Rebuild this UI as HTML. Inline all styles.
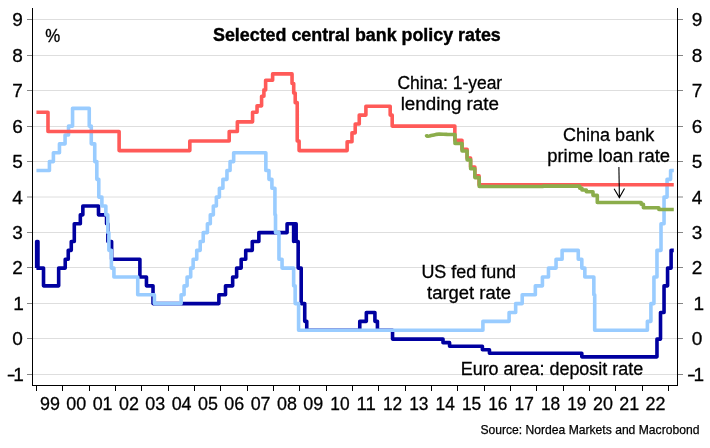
<!DOCTYPE html>
<html lang="en">
<head>
<meta charset="utf-8">
<title>Selected central bank policy rates</title>
<style>
html,body{margin:0;padding:0;background:#fff;}
body{width:710px;height:448px;overflow:hidden;}
svg{display:block;font-family:"Liberation Sans", sans-serif;}
.ax{font-size:19px;fill:#000;stroke:#000;stroke-width:0.3px;}
.lbl{font-size:18px;fill:#000;stroke:#000;stroke-width:0.3px;}
.ttl{font-size:18px;font-weight:bold;fill:#000;stroke:#000;stroke-width:0.4px;}
.src{font-size:13px;fill:#000;stroke:#000;stroke-width:0.25px;}
.grid line{stroke:#dedede;stroke-width:1;}
.tick line{stroke:#858585;stroke-width:1;}
.axis line{stroke:#000;stroke-width:1;}
.series path{fill:none;stroke-width:3.6;stroke-linejoin:round;stroke-linecap:butt;}
</style>
</head>
<body>
<svg width="710" height="448" viewBox="0 0 710 448" role="img" aria-label="Selected central bank policy rates">
<rect x="0" y="0" width="710" height="448" fill="#ffffff"/>

<g class="grid">
<line x1="32.5" x2="677.5" y1="374.5" y2="374.5"/>
<line x1="32.5" x2="677.5" y1="338.5" y2="338.5"/>
<line x1="32.5" x2="677.5" y1="303.5" y2="303.5"/>
<line x1="32.5" x2="677.5" y1="267.5" y2="267.5"/>
<line x1="32.5" x2="677.5" y1="232.5" y2="232.5"/>
<line x1="32.5" x2="677.5" y1="197.0" y2="197.0"/>
<line x1="32.5" x2="677.5" y1="161.5" y2="161.5"/>
<line x1="32.5" x2="677.5" y1="126.5" y2="126.5"/>
<line x1="32.5" x2="677.5" y1="90.5" y2="90.5"/>
<line x1="32.5" x2="677.5" y1="55.5" y2="55.5"/>
<line x1="32.5" x2="677.5" y1="19.5" y2="19.5"/>
</g>
<g class="tick">
<line x1="27" x2="32" y1="374.5" y2="374.5"/>
<line x1="678" x2="683" y1="374.5" y2="374.5"/>
<line x1="27" x2="32" y1="338.5" y2="338.5"/>
<line x1="678" x2="683" y1="338.5" y2="338.5"/>
<line x1="27" x2="32" y1="303.5" y2="303.5"/>
<line x1="678" x2="683" y1="303.5" y2="303.5"/>
<line x1="27" x2="32" y1="267.5" y2="267.5"/>
<line x1="678" x2="683" y1="267.5" y2="267.5"/>
<line x1="27" x2="32" y1="232.5" y2="232.5"/>
<line x1="678" x2="683" y1="232.5" y2="232.5"/>
<line x1="27" x2="32" y1="197.0" y2="197.0"/>
<line x1="678" x2="683" y1="197.0" y2="197.0"/>
<line x1="27" x2="32" y1="161.5" y2="161.5"/>
<line x1="678" x2="683" y1="161.5" y2="161.5"/>
<line x1="27" x2="32" y1="126.5" y2="126.5"/>
<line x1="678" x2="683" y1="126.5" y2="126.5"/>
<line x1="27" x2="32" y1="90.5" y2="90.5"/>
<line x1="678" x2="683" y1="90.5" y2="90.5"/>
<line x1="27" x2="32" y1="55.5" y2="55.5"/>
<line x1="678" x2="683" y1="55.5" y2="55.5"/>
<line x1="27" x2="32" y1="19.5" y2="19.5"/>
<line x1="678" x2="683" y1="19.5" y2="19.5"/>
</g>
<g class="series">
<path d="M36.45,268.10 L36.67,268.10 L36.67,241.48 L37.96,241.48 L37.96,268.10 L43.52,268.10 L43.52,285.85 L58.67,285.85 L58.67,268.10 L65.23,268.10 L65.23,259.23 L68.25,259.23 L68.25,250.35 L71.27,250.35 L71.27,241.48 L74.29,241.48 L74.29,223.73 L80.33,223.73 L80.33,214.85 L82.85,214.85 L82.85,205.98 L98.49,205.98 L98.49,214.85 L106.57,214.85 L106.57,223.73 L107.87,223.73 L107.87,241.48 L111.62,241.48 L111.62,259.23 L139.89,259.23 L139.89,276.98 L146.46,276.98 L146.46,285.85 L153.02,285.85 L153.02,303.60 L218.88,303.60 L218.88,294.73 L225.52,294.73 L225.52,285.85 L232.66,285.85 L232.66,276.98 L236.63,276.98 L236.63,268.10 L241.17,268.10 L241.17,259.23 L245.72,259.23 L245.72,250.35 L252.28,250.35 L252.28,241.48 L258.85,241.48 L258.85,232.60 L287.09,232.60 L287.09,223.73 L293.64,223.73 L293.64,241.48 L293.71,241.48 L293.71,223.73 L296.15,223.73 L296.15,241.48 L298.17,241.48 L298.17,268.10 L301.19,268.10 L301.19,303.60 L304.73,303.60 L304.73,321.35 L306.75,321.35 L306.75,330.23 L359.77,330.23 L359.77,321.35 L366.33,321.35 L366.33,312.48 L374.92,312.48 L374.92,321.35 L377.44,321.35 L377.44,330.23 L392.55,330.23 L392.55,339.10 L443.01,339.10 L443.01,342.65 L449.58,342.65 L449.58,346.20 L482.40,346.20 L482.40,349.75 L489.46,349.75 L489.46,353.30 L581.81,353.30 L581.81,356.85 L656.97,356.85 L656.97,339.10 L660.51,339.10 L660.51,312.48 L664.04,312.48 L664.04,285.85 L667.58,285.85 L667.58,268.10 L671.11,268.10 L671.11,250.35 L673.78,250.35" stroke="#0000A0"/>
<path d="M36.45,170.48 L49.43,170.48 L49.43,161.60 L53.40,161.60 L53.40,152.73 L59.46,152.73 L59.46,143.85 L65.08,143.85 L65.08,134.98 L68.54,134.98 L68.54,126.10 L72.56,126.10 L72.56,108.35 L89.25,108.35 L89.25,126.10 L91.27,126.10 L91.27,143.85 L94.74,143.85 L94.74,161.60 L96.83,161.60 L96.83,179.35 L98.78,179.35 L98.78,197.10 L101.88,197.10 L101.88,205.98 L105.85,205.98 L105.85,214.85 L107.79,214.85 L107.79,232.60 L108.88,232.60 L108.88,250.35 L111.40,250.35 L111.40,268.10 L113.93,268.10 L113.93,276.98 L137.73,276.98 L137.73,294.73 L154.39,294.73 L154.39,303.60 L181.12,303.60 L181.12,294.73 L184.07,294.73 L184.07,285.85 L187.09,285.85 L187.09,276.98 L190.69,276.98 L190.69,268.10 L193.14,268.10 L193.14,259.23 L196.74,259.23 L196.74,250.35 L200.20,250.35 L200.20,241.48 L203.23,241.48 L203.23,232.60 L207.41,232.60 L207.41,223.73 L210.30,223.73 L210.30,214.85 L213.33,214.85 L213.33,205.98 L216.36,205.98 L216.36,197.10 L219.39,197.10 L219.39,188.23 L222.92,188.23 L222.92,179.35 L226.96,179.35 L226.96,170.48 L230.07,170.48 L230.07,161.60 L233.67,161.60 L233.67,152.73 L265.85,152.73 L265.85,170.48 L268.95,170.48 L268.95,179.35 L271.91,179.35 L271.91,188.23 L274.93,188.23 L274.93,214.85 L275.51,214.85 L275.51,232.60 L278.96,232.60 L278.96,259.23 L282.05,259.23 L282.05,268.10 L293.64,268.10 L293.64,285.85 L295.15,285.85 L295.15,303.60 L298.60,303.60 L298.60,330.23 L482.91,330.23 L482.91,321.35 L509.10,321.35 L509.10,312.48 L515.66,312.48 L515.66,303.60 L522.22,303.60 L522.22,294.73 L535.35,294.73 L535.35,285.85 L542.42,285.85 L542.42,276.98 L548.48,276.98 L548.48,268.10 L556.05,268.10 L556.05,259.23 L562.11,259.23 L562.11,250.35 L578.27,250.35 L578.27,259.23 L581.81,259.23 L581.81,268.10 L584.84,268.10 L584.84,276.98 L593.84,276.98 L593.84,294.73 L594.70,294.73 L594.70,330.23 L647.38,330.23 L647.38,321.35 L650.91,321.35 L650.91,303.60 L653.94,303.60 L653.94,276.98 L656.97,276.98 L656.97,250.35 L661.01,250.35 L661.01,223.73 L664.04,223.73 L664.04,197.10 L667.07,197.10 L667.07,179.35 L670.61,179.35 L670.61,170.48 L673.78,170.48" stroke="#99CCFF"/>
<path d="M36.45,112.26 L47.99,112.26 L47.99,131.43 L119.12,131.43 L119.12,150.60 L189.83,150.60 L189.83,141.01 L229.20,141.01 L229.20,131.43 L237.35,131.43 L237.35,121.84 L252.57,121.84 L252.57,112.26 L257.04,112.26 L257.04,105.87 L261.59,105.87 L261.59,96.28 L263.90,96.28 L263.90,89.89 L265.63,89.89 L265.63,80.31 L272.63,80.31 L272.63,73.92 L292.05,73.92 L292.05,83.50 L293.71,83.50 L293.71,93.09 L295.22,93.09 L295.22,102.67 L297.23,102.67 L297.23,141.01 L299.10,141.01 L299.10,150.60 L347.14,150.60 L347.14,141.72 L351.98,141.72 L351.98,132.85 L355.22,132.85 L355.22,123.97 L359.26,123.97 L359.26,115.10 L365.90,115.10 L365.90,106.22 L390.18,106.22 L390.18,115.10 L392.19,115.10 L392.19,126.10 L454.84,126.10 L454.84,140.30 L461.99,140.30 L461.99,149.18 L467.11,149.18 L467.11,158.05 L470.57,158.05 L470.57,166.93 L474.83,166.93 L474.83,175.80 L479.08,175.80 L479.08,184.68 L673.78,184.68" stroke="#FF5A58"/>
<path d="M426.53,135.86 L427.98,136.18 L429.56,136.04 L431.14,135.61 L434.03,134.90 L436.67,134.34 L439.30,134.05 L443.25,134.19 L447.20,134.41 L454.97,134.44 L454.99,134.44 L454.99,143.50 L462.06,143.50 L462.06,150.95 L467.11,150.95 L467.11,159.83 L470.64,159.83 L470.64,168.70 L474.83,168.70 L474.83,177.58 L479.23,177.58 L479.23,186.45 L543.21,186.45 L543.21,186.10 L579.71,186.10 L579.71,188.23 L581.95,188.23 L581.95,190.00 L586.35,190.00 L586.35,191.78 L592.98,191.78 L592.98,195.33 L597.29,195.33 L597.29,202.43 L641.17,202.43 L641.17,204.20 L643.41,204.20 L643.41,207.75 L658.85,207.75 L658.85,209.53 L673.78,209.53" stroke="#8BAD4B"/>
<circle cx="426.53" cy="135.86" r="1.8" fill="#8BAD4B"/>
</g>
<g class="axis">
<line x1="32.5" x2="32.5" y1="8" y2="386"/>
<line x1="677.5" x2="677.5" y1="8" y2="386"/>
<line x1="32" x2="678" y1="385.5" y2="385.5"/>
<line x1="36.5" x2="36.5" y1="386" y2="391"/>
<line x1="62.5" x2="62.5" y1="386" y2="391"/>
<line x1="89.5" x2="89.5" y1="386" y2="391"/>
<line x1="115.5" x2="115.5" y1="386" y2="391"/>
<line x1="141.5" x2="141.5" y1="386" y2="391"/>
<line x1="168.5" x2="168.5" y1="386" y2="391"/>
<line x1="194.5" x2="194.5" y1="386" y2="391"/>
<line x1="220.5" x2="220.5" y1="386" y2="391"/>
<line x1="247.5" x2="247.5" y1="386" y2="391"/>
<line x1="273.5" x2="273.5" y1="386" y2="391"/>
<line x1="299.5" x2="299.5" y1="386" y2="391"/>
<line x1="326.5" x2="326.5" y1="386" y2="391"/>
<line x1="352.5" x2="352.5" y1="386" y2="391"/>
<line x1="378.5" x2="378.5" y1="386" y2="391"/>
<line x1="405.5" x2="405.5" y1="386" y2="391"/>
<line x1="431.5" x2="431.5" y1="386" y2="391"/>
<line x1="457.5" x2="457.5" y1="386" y2="391"/>
<line x1="484.5" x2="484.5" y1="386" y2="391"/>
<line x1="510.5" x2="510.5" y1="386" y2="391"/>
<line x1="536.5" x2="536.5" y1="386" y2="391"/>
<line x1="563.5" x2="563.5" y1="386" y2="391"/>
<line x1="589.5" x2="589.5" y1="386" y2="391"/>
<line x1="615.5" x2="615.5" y1="386" y2="391"/>
<line x1="642.5" x2="642.5" y1="386" y2="391"/>
<line x1="668.5" x2="668.5" y1="386" y2="391"/>
</g>
<g class="ax">
<text y="381.3"><tspan x="6.8" textLength="8.8" lengthAdjust="spacingAndGlyphs">-</tspan><tspan x="13.33">1</tspan></text>
<text y="381.3"><tspan x="687.0" textLength="8.8" lengthAdjust="spacingAndGlyphs">-</tspan><tspan x="693.40">1</tspan></text>
<text x="22.8" y="345.3" text-anchor="end">0</text>
<text x="691.7" y="345.3" text-anchor="start">0</text>
<text x="23.9" y="310.3" text-anchor="end">1</text>
<text x="693.4" y="310.3" text-anchor="start">1</text>
<text x="22.8" y="274.3" text-anchor="end">2</text>
<text x="691.7" y="274.3" text-anchor="start">2</text>
<text x="22.8" y="239.3" text-anchor="end">3</text>
<text x="691.7" y="239.3" text-anchor="start">3</text>
<text x="22.8" y="203.8" text-anchor="end">4</text>
<text x="691.7" y="203.8" text-anchor="start">4</text>
<text x="22.8" y="168.3" text-anchor="end">5</text>
<text x="691.7" y="168.3" text-anchor="start">5</text>
<text x="22.8" y="133.3" text-anchor="end">6</text>
<text x="691.7" y="133.3" text-anchor="start">6</text>
<text x="22.8" y="97.3" text-anchor="end">7</text>
<text x="691.7" y="97.3" text-anchor="start">7</text>
<text x="22.8" y="62.3" text-anchor="end">8</text>
<text x="691.7" y="62.3" text-anchor="start">8</text>
<text x="22.8" y="26.3" text-anchor="end">9</text>
<text x="691.7" y="26.3" text-anchor="start">9</text>
<text x="40.02" y="410.1" textLength="19.9" lengthAdjust="spacingAndGlyphs">99</text>
<text x="66.34" y="410.1" textLength="19.9" lengthAdjust="spacingAndGlyphs">00</text>
<text x="92.67" y="410.1" textLength="19.9" lengthAdjust="spacingAndGlyphs">01</text>
<text x="119.01" y="410.1" textLength="19.9" lengthAdjust="spacingAndGlyphs">02</text>
<text x="145.34" y="410.1" textLength="19.9" lengthAdjust="spacingAndGlyphs">03</text>
<text x="171.66" y="410.1" textLength="19.9" lengthAdjust="spacingAndGlyphs">04</text>
<text x="197.99" y="410.1" textLength="19.9" lengthAdjust="spacingAndGlyphs">05</text>
<text x="224.33" y="410.1" textLength="19.9" lengthAdjust="spacingAndGlyphs">06</text>
<text x="250.66" y="410.1" textLength="19.9" lengthAdjust="spacingAndGlyphs">07</text>
<text x="276.98" y="410.1" textLength="19.9" lengthAdjust="spacingAndGlyphs">08</text>
<text x="303.31" y="410.1" textLength="19.9" lengthAdjust="spacingAndGlyphs">09</text>
<text x="330.24" y="410.1" textLength="19.3" lengthAdjust="spacingAndGlyphs">10</text>
<text x="356.57" y="410.1" textLength="19.3" lengthAdjust="spacingAndGlyphs">11</text>
<text x="382.90" y="410.1" textLength="19.3" lengthAdjust="spacingAndGlyphs">12</text>
<text x="409.23" y="410.1" textLength="19.3" lengthAdjust="spacingAndGlyphs">13</text>
<text x="435.56" y="410.1" textLength="19.3" lengthAdjust="spacingAndGlyphs">14</text>
<text x="461.89" y="410.1" textLength="19.3" lengthAdjust="spacingAndGlyphs">15</text>
<text x="488.22" y="410.1" textLength="19.3" lengthAdjust="spacingAndGlyphs">16</text>
<text x="514.55" y="410.1" textLength="19.3" lengthAdjust="spacingAndGlyphs">17</text>
<text x="540.88" y="410.1" textLength="19.3" lengthAdjust="spacingAndGlyphs">18</text>
<text x="567.22" y="410.1" textLength="19.3" lengthAdjust="spacingAndGlyphs">19</text>
<text x="592.94" y="410.1" textLength="19.9" lengthAdjust="spacingAndGlyphs">20</text>
<text x="619.27" y="410.1" textLength="19.9" lengthAdjust="spacingAndGlyphs">21</text>
<text x="645.61" y="410.1" textLength="19.9" lengthAdjust="spacingAndGlyphs">22</text>
</g>
<text class="lbl" x="45.2" y="42.0" textLength="15.0" lengthAdjust="spacingAndGlyphs">%</text>
<text class="ttl" x="213.0" y="40.6" textLength="287.8" lengthAdjust="spacingAndGlyphs">Selected central bank policy rates</text>
<text class="lbl" x="397.4" y="89.3" textLength="104.8" lengthAdjust="spacingAndGlyphs">China: 1-year</text>
<text class="lbl" x="400.7" y="110.0" textLength="98.3" lengthAdjust="spacingAndGlyphs">lending rate</text>
<text class="lbl" x="563.0" y="140.5" textLength="91.2" lengthAdjust="spacingAndGlyphs">China bank</text>
<text class="lbl" x="547.2" y="161.9" textLength="122.8" lengthAdjust="spacingAndGlyphs">prime loan rate</text>
<text class="lbl" x="421.4" y="277.5" textLength="94.7" lengthAdjust="spacingAndGlyphs">US fed fund</text>
<text class="lbl" x="427.0" y="298.5" textLength="84.1" lengthAdjust="spacingAndGlyphs">target rate</text>
<text class="lbl" x="460.7" y="375.0" textLength="182.5" lengthAdjust="spacingAndGlyphs">Euro area: deposit rate</text>
<text class="src" x="480.4" y="434.0" textLength="219.0" lengthAdjust="spacingAndGlyphs">Source: Nordea Markets and Macrobond</text>
<g fill="none" stroke="#000" stroke-width="1.1" stroke-linecap="butt" stroke-linejoin="miter"><path d="M618.9,167.1 L619.4,197.4"/><path d="M614.1,188.7 L619.4,197.6 L624.5,188.6"/></g>
</svg>
</body>
</html>
